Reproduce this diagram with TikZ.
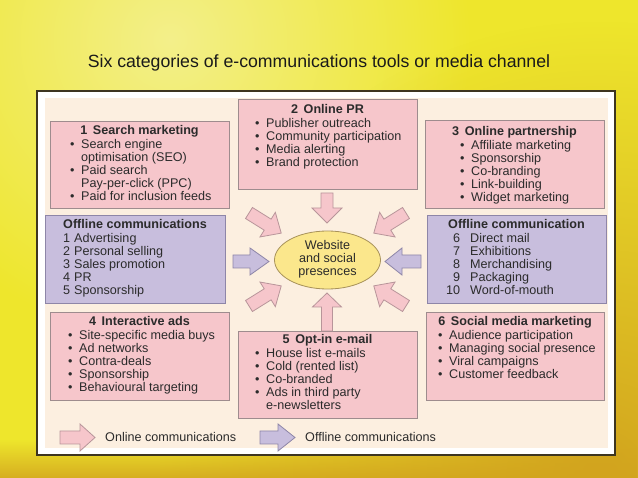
\documentclass[tikz,border=0pt]{standalone}
\usepackage{fontspec}
\setmainfont{Liberation Sans}
\usetikzlibrary{shapes.geometric,fadings}
\definecolor{bgY}{HTML}{EEE62C}
\definecolor{bgPale}{HTML}{F3EF8A}
\definecolor{bgGold}{HTML}{D2A41E}
\definecolor{cream}{HTML}{FCEFE0}
\definecolor{framedark}{HTML}{3D3520}
\definecolor{pinkF}{HTML}{F6C6CB}
\definecolor{pinkD}{HTML}{9E8C8E}
\definecolor{arrPinkD}{HTML}{B8959A}
\definecolor{lilacF}{HTML}{C8BEDD}
\definecolor{lilacD}{HTML}{8E86A8}
\definecolor{ellF}{HTML}{FBE78C}
\definecolor{ellD}{HTML}{A8925A}
\definecolor{txt}{HTML}{2B2B2B}
\definecolor{titletxt}{HTML}{1A1A1A}
\newcommand\bodyfont{\fontsize{12.6}{13}\selectfont}
\newcommand\firststrut{\rule{0pt}{10pt}}
\newcommand\bulitem{\makebox[11pt][l]{•}}
\newcommand\contind{\hspace*{11pt}}
\newcommand\numl[1]{\makebox[11pt][l]{#1}}
\newcommand\numr[1]{\makebox[14pt][r]{#1}\hspace{10pt}}
\tikzfading[name=cornerfade, inner color=transparent!0, outer color=transparent!100]
\begin{document}
\begin{tikzpicture}[x=1pt,y=-1pt,
  pbox/.style={draw=pinkD, fill=pinkF, line width=0.8pt, anchor=north west, inner sep=0pt},
  lbox/.style={draw=lilacD, fill=lilacF, line width=0.8pt, anchor=north west, inner sep=0pt},
  lines/.style={font=\bodyfont, text=txt, inner sep=0pt, align=left, anchor=north west},
  headtext/.style={font=\bodyfont\bfseries, text=txt, inner sep=0pt, anchor=base},
  plain/.style={font=\bodyfont, text=txt, inner sep=0pt, anchor=base west},
  onarrow/.style={fill=pinkF, draw=arrPinkD, line width=0.8pt},
  offarrow/.style={fill=lilacF, draw=lilacD, line width=0.8pt},
  alen/.store in=\alen, ahead/.store in=\ahead, ashaft/.store in=\ashaft, awide/.store in=\awide,
  alen=36, ahead=16, ashaft=12, awide=28,
  barrow/.pic={\path[pic actions] (0,-\ashaft/2) -- (\alen-\ahead,-\ashaft/2) -- (\alen-\ahead,-\awide/2) -- (\alen,0) -- (\alen-\ahead,\awide/2) -- (\alen-\ahead,\ashaft/2) -- (0,\ashaft/2) -- cycle;}
]
\useasboundingbox (0,0) rectangle (638,478);
% background
\fill[bgY] (0,0) rectangle (638,478);
\begin{scope}
\clip (0,0) rectangle (638,478);
\shade[inner color=bgPale, outer color=bgY] (170,40) circle (300pt);
\fill[bgGold, path fading=cornerfade] (160,22) rectangle (1040,934);
\fill[bgGold, opacity=0.85, path fading=north] (0,440) rectangle (638,478);
\end{scope}
% title
\node[font=\fontsize{17.7}{20}\selectfont, text=titletxt, anchor=base, inner sep=0pt] (title) at (319,68) {Six categories of e-communications tools or media channel};
% frame
\draw[framedark, line width=1.2pt, fill=white] (37,91) rectangle (615,455);
\fill[cream] (45,98) rectangle (608,448);
% boxes
\node[pbox, minimum width=179pt, minimum height=87pt] (b1) at (50,121) {};
\node[pbox, minimum width=179pt, minimum height=90pt] (b2) at (238,99) {};
\node[pbox, minimum width=179pt, minimum height=88pt] (b3) at (425,120) {};
\node[lbox, minimum width=180pt, minimum height=88pt] (offL) at (45,215) {};
\node[lbox, minimum width=179pt, minimum height=88pt] (offR) at (427,215) {};
\node[pbox, minimum width=179pt, minimum height=88pt] (b4) at (50,312) {};
\node[pbox, minimum width=179pt, minimum height=87pt] (b5) at (238,331) {};
\node[pbox, minimum width=178pt, minimum height=88pt] (b6) at (426,312) {};
% box texts
\node[headtext] (h1) at (139.5,135) {1\hspace{.45em}Search marketing};
\node[lines] (t1) at (70,138) {\firststrut\bulitem Search engine\\\contind optimisation (SEO)\\\bulitem Paid search\\\contind Pay-per-click (PPC)\\\bulitem Paid for inclusion feeds};
\node[headtext] (h2) at (327.5,114) {2\hspace{.45em}Online PR};
\node[lines] (t2) at (255,117) {\firststrut\bulitem Publisher outreach\\\bulitem Community participation\\\bulitem Media alerting\\\bulitem Brand protection};
\node[headtext] (h3) at (514.5,136) {3\hspace{.45em}Online partnership};
\node[lines] (t3) at (460,139) {\firststrut\bulitem Affiliate marketing\\\bulitem Sponsorship\\\bulitem Co-branding\\\bulitem Link-building\\\bulitem Widget marketing};
\node[headtext] (hL) at (135,229) {Offline communications};
\node[lines] (tL) at (63,232) {\firststrut\numl{1}Advertising\\\numl{2}Personal selling\\\numl{3}Sales promotion\\\numl{4}PR\\\numl{5}Sponsorship};
\node[headtext] (hR) at (516.5,229) {Offline communication};
\node[lines] (tR) at (446,232) {\firststrut\numr{6}Direct mail\\\numr{7}Exhibitions\\\numr{8}Merchandising\\\numr{9}Packaging\\\numr{10}Word-of-mouth};
\node[headtext] (h4) at (139.5,326) {4\hspace{.45em}Interactive ads};
\node[lines] (t4) at (68,329) {\firststrut\bulitem Site-specific media buys\\\bulitem Ad networks\\\bulitem Contra-deals\\\bulitem Sponsorship\\\bulitem Behavioural targeting};
\node[headtext] (h5) at (327.5,344) {5\hspace{.45em}Opt-in e-mail};
\node[lines] (t5) at (255,347) {\firststrut\bulitem House list e-mails\\\bulitem Cold (rented list)\\\bulitem Co-branded\\\bulitem Ads in third party\\\contind e-newsletters};
\node[headtext] (h6) at (515,326) {6\hspace{.45em}Social media marketing};
\node[lines] (t6) at (438,329) {\firststrut\bulitem Audience participation\\\bulitem Managing social presence\\\bulitem Viral campaigns\\\bulitem Customer feedback};
% centre
\node[ellipse, draw=ellD, fill=ellF, line width=0.8pt, minimum width=106pt, minimum height=58pt, inner sep=0pt] (web) at (327.5,260) {};
\node[lines, anchor=north, align=center] (webtext) at (327.5,239) {\firststrut Website\\and social\\presences};
% arrows
\pic[onarrow, rotate=-90, alen=30, ahead=15, awide=30, ashaft=12] at (327,193) {barrow};
\pic[onarrow, rotate=90, alen=38, ahead=14, awide=29, ashaft=11] at (327,331) {barrow};
\pic[offarrow, alen=36, ahead=19, awide=27, ashaft=13] at (233,261.5) {barrow};
\pic[offarrow, rotate=180, alen=36, ahead=17, awide=27, ashaft=13] at (421,261.5) {barrow};
\pic[onarrow, rotate=-32, alen=38, ahead=16, awide=29, ashaft=13] at (249,213) {barrow};
\pic[onarrow, rotate=-148, alen=38, ahead=16, awide=29, ashaft=13] at (406,213) {barrow};
\pic[onarrow, rotate=32, alen=38, ahead=16, awide=29, ashaft=13] at (249,306) {barrow};
\pic[onarrow, rotate=148, alen=38, ahead=16, awide=29, ashaft=13] at (406,306) {barrow};
% legend
\pic[onarrow, alen=35, ahead=15, awide=27, ashaft=13] at (60,437.5) {barrow};
\node[plain] (lon) at (105,442) {Online communications};
\pic[offarrow, alen=35, ahead=17, awide=27, ashaft=13] at (260,437.5) {barrow};
\node[plain] (loff) at (305,442) {Offline communications};
\end{tikzpicture}
\end{document}
